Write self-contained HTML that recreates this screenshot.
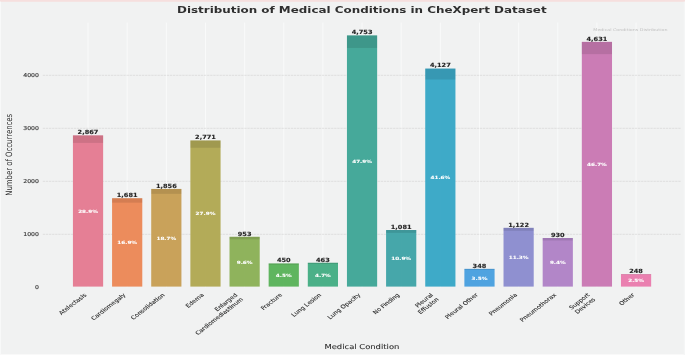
<!DOCTYPE html>
<html lang="en"><head><meta charset="utf-8"><title>Distribution of Medical Conditions in CheXpert Dataset</title>
<style>html,body{margin:0;padding:0;background:#f1f2f2;overflow:hidden}svg{display:block;filter:blur(0.6px)}text{font-family:"DejaVu Sans","Liberation Sans",sans-serif}</style></head><body>
<svg width="685" height="355" viewBox="0 0 685 355">
<rect width="685" height="355" fill="#f1f2f2"/>
<rect x="0" y="0" width="685" height="1.8" fill="#f6dfde"/>
<rect x="0" y="1.6" width="1" height="355" fill="#f8f9f9"/>
<rect x="0" y="354" width="685" height="1" fill="#f9f9f9"/>
<rect x="683.7" y="1.6" width="1.3" height="355" fill="#f5f6f6"/>
<line x1="88.03" y1="22.6" x2="88.03" y2="287.3" stroke="#f9fafa" stroke-width="1.0"/>
<line x1="127.18" y1="22.6" x2="127.18" y2="287.3" stroke="#f9fafa" stroke-width="1.0"/>
<line x1="166.32" y1="22.6" x2="166.32" y2="287.3" stroke="#f9fafa" stroke-width="1.0"/>
<line x1="205.47" y1="22.6" x2="205.47" y2="287.3" stroke="#f9fafa" stroke-width="1.0"/>
<line x1="244.61" y1="22.6" x2="244.61" y2="287.3" stroke="#f9fafa" stroke-width="1.0"/>
<line x1="283.75" y1="22.6" x2="283.75" y2="287.3" stroke="#f9fafa" stroke-width="1.0"/>
<line x1="322.90" y1="22.6" x2="322.90" y2="287.3" stroke="#f9fafa" stroke-width="1.0"/>
<line x1="362.05" y1="22.6" x2="362.05" y2="287.3" stroke="#f9fafa" stroke-width="1.0"/>
<line x1="401.19" y1="22.6" x2="401.19" y2="287.3" stroke="#f9fafa" stroke-width="1.0"/>
<line x1="440.34" y1="22.6" x2="440.34" y2="287.3" stroke="#f9fafa" stroke-width="1.0"/>
<line x1="479.48" y1="22.6" x2="479.48" y2="287.3" stroke="#f9fafa" stroke-width="1.0"/>
<line x1="518.62" y1="22.6" x2="518.62" y2="287.3" stroke="#f9fafa" stroke-width="1.0"/>
<line x1="557.77" y1="22.6" x2="557.77" y2="287.3" stroke="#f9fafa" stroke-width="1.0"/>
<line x1="596.92" y1="22.6" x2="596.92" y2="287.3" stroke="#f9fafa" stroke-width="1.0"/>
<line x1="636.06" y1="22.6" x2="636.06" y2="287.3" stroke="#f9fafa" stroke-width="1.0"/>
<text transform="translate(39.00,289.26) scale(1,0.88)" font-size="6.2" text-anchor="end" fill="#3c3c3c" stroke="#3c3c3c" stroke-width="0.2">0</text>
<line x1="42.8" y1="234.30" x2="681.0" y2="234.30" stroke="#c8c8c8" stroke-width="0.45" stroke-dasharray="2.3,0.8"/>
<text transform="translate(39.00,236.26) scale(1,0.88)" font-size="6.2" text-anchor="end" fill="#3c3c3c" stroke="#3c3c3c" stroke-width="0.2">1000</text>
<line x1="42.8" y1="181.30" x2="681.0" y2="181.30" stroke="#c8c8c8" stroke-width="0.45" stroke-dasharray="2.3,0.8"/>
<text transform="translate(39.00,183.26) scale(1,0.88)" font-size="6.2" text-anchor="end" fill="#3c3c3c" stroke="#3c3c3c" stroke-width="0.2">2000</text>
<line x1="42.8" y1="128.30" x2="681.0" y2="128.30" stroke="#c8c8c8" stroke-width="0.45" stroke-dasharray="2.3,0.8"/>
<text transform="translate(39.00,130.26) scale(1,0.88)" font-size="6.2" text-anchor="end" fill="#3c3c3c" stroke="#3c3c3c" stroke-width="0.2">3000</text>
<line x1="42.8" y1="75.30" x2="681.0" y2="75.30" stroke="#c8c8c8" stroke-width="0.45" stroke-dasharray="2.3,0.8"/>
<text transform="translate(39.00,77.26) scale(1,0.88)" font-size="6.2" text-anchor="end" fill="#3c3c3c" stroke="#3c3c3c" stroke-width="0.2">4000</text>
<rect x="72.93" y="135.35" width="30.2" height="151.25" fill="#e57f95"/>
<rect x="72.93" y="135.35" width="30.2" height="7.60" fill="#000" fill-opacity="0.10"/>
<line x1="88.03" y1="135.35" x2="88.03" y2="287.3" stroke="#fff" stroke-opacity="0.015" stroke-width="0.9"/>
<text transform="translate(88.03,134.15) scale(1,0.88)" font-size="6.6" text-anchor="middle" fill="#262626" font-weight="bold" stroke="#262626" stroke-width="0.15">2,867</text>
<text transform="translate(88.03,212.83) scale(1,0.78)" font-size="5.7" text-anchor="middle" fill="#fff" font-weight="bold" stroke="#fff" stroke-width="0.12">28.9%</text>
<rect x="112.08" y="198.21" width="30.2" height="88.39" fill="#ec8c5c"/>
<rect x="112.08" y="198.21" width="30.2" height="4.45" fill="#000" fill-opacity="0.10"/>
<line x1="127.18" y1="198.21" x2="127.18" y2="287.3" stroke="#fff" stroke-opacity="0.015" stroke-width="0.9"/>
<text transform="translate(127.18,197.01) scale(1,0.88)" font-size="6.6" text-anchor="middle" fill="#262626" font-weight="bold" stroke="#262626" stroke-width="0.15">1,681</text>
<text transform="translate(127.18,244.25) scale(1,0.78)" font-size="5.7" text-anchor="middle" fill="#fff" font-weight="bold" stroke="#fff" stroke-width="0.12">16.9%</text>
<rect x="151.22" y="188.93" width="30.2" height="97.67" fill="#c9a25a"/>
<rect x="151.22" y="188.93" width="30.2" height="4.92" fill="#000" fill-opacity="0.10"/>
<line x1="166.32" y1="188.93" x2="166.32" y2="287.3" stroke="#fff" stroke-opacity="0.015" stroke-width="0.9"/>
<text transform="translate(166.32,187.73) scale(1,0.88)" font-size="6.6" text-anchor="middle" fill="#262626" font-weight="bold" stroke="#262626" stroke-width="0.15">1,856</text>
<text transform="translate(166.32,239.62) scale(1,0.78)" font-size="5.7" text-anchor="middle" fill="#fff" font-weight="bold" stroke="#fff" stroke-width="0.12">18.7%</text>
<rect x="190.37" y="140.44" width="30.2" height="146.16" fill="#b3ab58"/>
<rect x="190.37" y="140.44" width="30.2" height="7.34" fill="#000" fill-opacity="0.10"/>
<line x1="205.47" y1="140.44" x2="205.47" y2="287.3" stroke="#fff" stroke-opacity="0.015" stroke-width="0.9"/>
<text transform="translate(205.47,139.24) scale(1,0.88)" font-size="6.6" text-anchor="middle" fill="#262626" font-weight="bold" stroke="#262626" stroke-width="0.15">2,771</text>
<text transform="translate(205.47,215.37) scale(1,0.78)" font-size="5.7" text-anchor="middle" fill="#fff" font-weight="bold" stroke="#fff" stroke-width="0.12">27.9%</text>
<rect x="229.51" y="236.79" width="30.2" height="49.81" fill="#8fb35c"/>
<rect x="229.51" y="236.79" width="30.2" height="2.53" fill="#000" fill-opacity="0.10"/>
<line x1="244.61" y1="236.79" x2="244.61" y2="287.3" stroke="#fff" stroke-opacity="0.015" stroke-width="0.9"/>
<text transform="translate(244.61,235.59) scale(1,0.88)" font-size="6.6" text-anchor="middle" fill="#262626" font-weight="bold" stroke="#262626" stroke-width="0.15">953</text>
<text transform="translate(244.61,263.55) scale(1,0.78)" font-size="5.7" text-anchor="middle" fill="#fff" font-weight="bold" stroke="#fff" stroke-width="0.12">9.6%</text>
<rect x="268.65" y="263.45" width="30.2" height="23.15" fill="#5fb55f"/>
<rect x="268.65" y="263.45" width="30.2" height="1.19" fill="#000" fill-opacity="0.10"/>
<line x1="283.75" y1="263.45" x2="283.75" y2="287.3" stroke="#fff" stroke-opacity="0.015" stroke-width="0.9"/>
<text transform="translate(283.75,262.25) scale(1,0.88)" font-size="6.6" text-anchor="middle" fill="#262626" font-weight="bold" stroke="#262626" stroke-width="0.15">450</text>
<text transform="translate(283.75,276.88) scale(1,0.78)" font-size="5.7" text-anchor="middle" fill="#fff" font-weight="bold" stroke="#fff" stroke-width="0.12">4.5%</text>
<rect x="307.80" y="262.76" width="30.2" height="23.84" fill="#4bb088"/>
<rect x="307.80" y="262.76" width="30.2" height="1.23" fill="#000" fill-opacity="0.10"/>
<line x1="322.90" y1="262.76" x2="322.90" y2="287.3" stroke="#fff" stroke-opacity="0.015" stroke-width="0.9"/>
<text transform="translate(322.90,261.56) scale(1,0.88)" font-size="6.6" text-anchor="middle" fill="#262626" font-weight="bold" stroke="#262626" stroke-width="0.15">463</text>
<text transform="translate(322.90,276.53) scale(1,0.78)" font-size="5.7" text-anchor="middle" fill="#fff" font-weight="bold" stroke="#fff" stroke-width="0.12">4.7%</text>
<rect x="346.95" y="35.39" width="30.2" height="251.21" fill="#46a99a"/>
<rect x="346.95" y="35.39" width="30.2" height="12.60" fill="#000" fill-opacity="0.10"/>
<line x1="362.05" y1="35.39" x2="362.05" y2="287.3" stroke="#fff" stroke-opacity="0.015" stroke-width="0.9"/>
<text transform="translate(362.05,34.19) scale(1,0.88)" font-size="6.6" text-anchor="middle" fill="#262626" font-weight="bold" stroke="#262626" stroke-width="0.15">4,753</text>
<text transform="translate(362.05,162.85) scale(1,0.78)" font-size="5.7" text-anchor="middle" fill="#fff" font-weight="bold" stroke="#fff" stroke-width="0.12">47.9%</text>
<rect x="386.09" y="230.01" width="30.2" height="56.59" fill="#46a7aa"/>
<rect x="386.09" y="230.01" width="30.2" height="2.86" fill="#000" fill-opacity="0.10"/>
<line x1="401.19" y1="230.01" x2="401.19" y2="287.3" stroke="#fff" stroke-opacity="0.015" stroke-width="0.9"/>
<text transform="translate(401.19,228.81) scale(1,0.88)" font-size="6.6" text-anchor="middle" fill="#262626" font-weight="bold" stroke="#262626" stroke-width="0.15">1,081</text>
<text transform="translate(401.19,260.15) scale(1,0.78)" font-size="5.7" text-anchor="middle" fill="#fff" font-weight="bold" stroke="#fff" stroke-width="0.12">10.9%</text>
<rect x="425.24" y="68.57" width="30.2" height="218.03" fill="#3eaac8"/>
<rect x="425.24" y="68.57" width="30.2" height="10.94" fill="#000" fill-opacity="0.10"/>
<line x1="440.34" y1="68.57" x2="440.34" y2="287.3" stroke="#fff" stroke-opacity="0.015" stroke-width="0.9"/>
<text transform="translate(440.34,67.37) scale(1,0.88)" font-size="6.6" text-anchor="middle" fill="#262626" font-weight="bold" stroke="#262626" stroke-width="0.15">4,127</text>
<text transform="translate(440.34,179.44) scale(1,0.78)" font-size="5.7" text-anchor="middle" fill="#fff" font-weight="bold" stroke="#fff" stroke-width="0.12">41.6%</text>
<rect x="464.38" y="268.86" width="30.2" height="17.74" fill="#4fa3e0"/>
<rect x="464.38" y="268.86" width="30.2" height="0.92" fill="#000" fill-opacity="0.10"/>
<line x1="479.48" y1="268.86" x2="479.48" y2="287.3" stroke="#fff" stroke-opacity="0.015" stroke-width="0.9"/>
<text transform="translate(479.48,267.66) scale(1,0.88)" font-size="6.6" text-anchor="middle" fill="#262626" font-weight="bold" stroke="#262626" stroke-width="0.15">348</text>
<text transform="translate(479.48,279.58) scale(1,0.78)" font-size="5.7" text-anchor="middle" fill="#fff" font-weight="bold" stroke="#fff" stroke-width="0.12">3.5%</text>
<rect x="503.52" y="227.83" width="30.2" height="58.77" fill="#8f90d0"/>
<rect x="503.52" y="227.83" width="30.2" height="2.97" fill="#000" fill-opacity="0.10"/>
<line x1="518.62" y1="227.83" x2="518.62" y2="287.3" stroke="#fff" stroke-opacity="0.015" stroke-width="0.9"/>
<text transform="translate(518.62,226.63) scale(1,0.88)" font-size="6.6" text-anchor="middle" fill="#262626" font-weight="bold" stroke="#262626" stroke-width="0.15">1,122</text>
<text transform="translate(518.62,259.07) scale(1,0.78)" font-size="5.7" text-anchor="middle" fill="#fff" font-weight="bold" stroke="#fff" stroke-width="0.12">11.3%</text>
<rect x="542.67" y="238.01" width="30.2" height="48.59" fill="#b286c8"/>
<rect x="542.67" y="238.01" width="30.2" height="2.46" fill="#000" fill-opacity="0.10"/>
<line x1="557.77" y1="238.01" x2="557.77" y2="287.3" stroke="#fff" stroke-opacity="0.015" stroke-width="0.9"/>
<text transform="translate(557.77,236.81) scale(1,0.88)" font-size="6.6" text-anchor="middle" fill="#262626" font-weight="bold" stroke="#262626" stroke-width="0.15">930</text>
<text transform="translate(557.77,264.16) scale(1,0.78)" font-size="5.7" text-anchor="middle" fill="#fff" font-weight="bold" stroke="#fff" stroke-width="0.12">9.4%</text>
<rect x="581.82" y="41.86" width="30.2" height="244.74" fill="#cb7cb5"/>
<rect x="581.82" y="41.86" width="30.2" height="12.27" fill="#000" fill-opacity="0.10"/>
<line x1="596.92" y1="41.86" x2="596.92" y2="287.3" stroke="#fff" stroke-opacity="0.015" stroke-width="0.9"/>
<text transform="translate(596.92,40.66) scale(1,0.88)" font-size="6.6" text-anchor="middle" fill="#262626" font-weight="bold" stroke="#262626" stroke-width="0.15">4,631</text>
<text transform="translate(596.92,166.08) scale(1,0.78)" font-size="5.7" text-anchor="middle" fill="#fff" font-weight="bold" stroke="#fff" stroke-width="0.12">46.7%</text>
<rect x="620.96" y="274.16" width="30.2" height="12.44" fill="#ea80b0"/>
<rect x="620.96" y="274.16" width="30.2" height="0.66" fill="#000" fill-opacity="0.10"/>
<line x1="636.06" y1="274.16" x2="636.06" y2="287.3" stroke="#fff" stroke-opacity="0.015" stroke-width="0.9"/>
<text transform="translate(636.06,272.96) scale(1,0.88)" font-size="6.6" text-anchor="middle" fill="#262626" font-weight="bold" stroke="#262626" stroke-width="0.15">248</text>
<text transform="translate(636.06,282.23) scale(1,0.78)" font-size="5.7" text-anchor="middle" fill="#fff" font-weight="bold" stroke="#fff" stroke-width="0.12">2.5%</text>
<g transform="translate(86.91,295.37) scale(1,0.78) rotate(-45)">
<text x="0" y="0.00" font-size="6.6" text-anchor="end" fill="#2a2a2a" stroke="#2a2a2a" stroke-width="0.12">Atelectasis</text>
</g>
<g transform="translate(126.06,295.37) scale(1,0.78) rotate(-45)">
<text x="0" y="0.00" font-size="6.6" text-anchor="end" fill="#2a2a2a" stroke="#2a2a2a" stroke-width="0.12">Cardiomegaly</text>
</g>
<g transform="translate(165.20,295.37) scale(1,0.78) rotate(-45)">
<text x="0" y="0.00" font-size="6.6" text-anchor="end" fill="#2a2a2a" stroke="#2a2a2a" stroke-width="0.12">Consolidation</text>
</g>
<g transform="translate(204.35,295.37) scale(1,0.78) rotate(-45)">
<text x="0" y="0.00" font-size="6.6" text-anchor="end" fill="#2a2a2a" stroke="#2a2a2a" stroke-width="0.12">Edema</text>
</g>
<g transform="translate(237.89,295.37) scale(1,0.78) rotate(-45)">
<text x="0" y="0.00" font-size="6.6" text-anchor="end" fill="#2a2a2a" stroke="#2a2a2a" stroke-width="0.12">Enlarged</text>
<text x="0" y="7.92" font-size="6.6" text-anchor="end" fill="#2a2a2a" stroke="#2a2a2a" stroke-width="0.12">Cardiomediastinum</text>
</g>
<g transform="translate(282.64,295.37) scale(1,0.78) rotate(-45)">
<text x="0" y="0.00" font-size="6.6" text-anchor="end" fill="#2a2a2a" stroke="#2a2a2a" stroke-width="0.12">Fracture</text>
</g>
<g transform="translate(321.78,295.37) scale(1,0.78) rotate(-45)">
<text x="0" y="0.00" font-size="6.6" text-anchor="end" fill="#2a2a2a" stroke="#2a2a2a" stroke-width="0.12">Lung Lesion</text>
</g>
<g transform="translate(360.93,295.37) scale(1,0.78) rotate(-45)">
<text x="0" y="0.00" font-size="6.6" text-anchor="end" fill="#2a2a2a" stroke="#2a2a2a" stroke-width="0.12">Lung Opacity</text>
</g>
<g transform="translate(400.07,295.37) scale(1,0.78) rotate(-45)">
<text x="0" y="0.00" font-size="6.6" text-anchor="end" fill="#2a2a2a" stroke="#2a2a2a" stroke-width="0.12">No Finding</text>
</g>
<g transform="translate(433.62,295.37) scale(1,0.78) rotate(-45)">
<text x="0" y="0.00" font-size="6.6" text-anchor="end" fill="#2a2a2a" stroke="#2a2a2a" stroke-width="0.12">Pleural</text>
<text x="0" y="7.92" font-size="6.6" text-anchor="end" fill="#2a2a2a" stroke="#2a2a2a" stroke-width="0.12">Effusion</text>
</g>
<g transform="translate(478.36,295.37) scale(1,0.78) rotate(-45)">
<text x="0" y="0.00" font-size="6.6" text-anchor="end" fill="#2a2a2a" stroke="#2a2a2a" stroke-width="0.12">Pleural Other</text>
</g>
<g transform="translate(517.51,295.37) scale(1,0.78) rotate(-45)">
<text x="0" y="0.00" font-size="6.6" text-anchor="end" fill="#2a2a2a" stroke="#2a2a2a" stroke-width="0.12">Pneumonia</text>
</g>
<g transform="translate(556.65,295.37) scale(1,0.78) rotate(-45)">
<text x="0" y="0.00" font-size="6.6" text-anchor="end" fill="#2a2a2a" stroke="#2a2a2a" stroke-width="0.12">Pneumothorax</text>
</g>
<g transform="translate(590.20,295.37) scale(1,0.78) rotate(-45)">
<text x="0" y="0.00" font-size="6.6" text-anchor="end" fill="#2a2a2a" stroke="#2a2a2a" stroke-width="0.12">Support</text>
<text x="0" y="7.92" font-size="6.6" text-anchor="end" fill="#2a2a2a" stroke="#2a2a2a" stroke-width="0.12">Devices</text>
</g>
<g transform="translate(634.94,295.37) scale(1,0.78) rotate(-45)">
<text x="0" y="0.00" font-size="6.6" text-anchor="end" fill="#2a2a2a" stroke="#2a2a2a" stroke-width="0.12">Other</text>
</g>
<text transform="translate(361.80,12.50) scale(1,0.78)" font-size="11.93" text-anchor="middle" fill="#2f2f2f" font-weight="bold">Distribution of Medical Conditions in CheXpert Dataset</text>
<text transform="translate(361.90,349.30) scale(1,0.8)" font-size="8.42" text-anchor="middle" fill="#2c2c2c" stroke="#2c2c2c" stroke-width="0.1">Medical Condition</text>
<text transform="translate(12.00,154.80) scale(1,0.792) rotate(-90)" font-size="8.75" text-anchor="middle" fill="#2e2e2e">Number of Occurrences</text>
<text transform="translate(667.50,30.80) scale(1,0.78)" font-size="4.78" text-anchor="end" fill="#c2c2c2">Medical Conditions Distribution</text>
</svg></body></html>
